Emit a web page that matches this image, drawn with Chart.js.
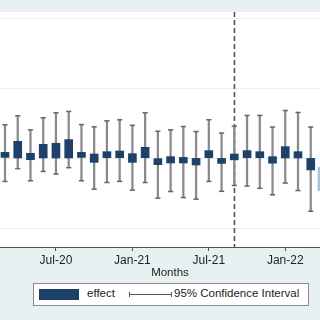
<!DOCTYPE html>
<html>
<head>
<meta charset="utf-8">
<script src="https://cdn.jsdelivr.net/npm/chart.js@4.4.1/dist/chart.umd.min.js"></script>
<style>
html,body{margin:0;padding:0;background:#e8f1f2;}
#wrap{position:relative;width:320px;height:320px;overflow:hidden;background:#e8f1f2;}
#c{position:absolute;left:0;top:0;}
#legend{position:absolute;left:33px;top:283px;width:274px;height:21px;background:#fff;border:1px solid #8c8c8c;
  font-family:"Liberation Sans",Arial,sans-serif;font-size:11.5px;color:#222;}
#legend .sw{position:absolute;left:5px;top:5px;width:40px;height:11px;background:#1d4169;}
#legend .t1{position:absolute;left:53px;top:3px;}
#legend .ci{position:absolute;left:95px;top:10px;width:43px;height:0;border-top:1px solid #555;}
#legend .ci:before,#legend .ci:after{content:"";position:absolute;top:-3px;width:0;height:5px;border-left:1px solid #555;}
#legend .ci:before{left:0;}
#legend .ci:after{right:0;}
#legend .t2{position:absolute;left:140px;top:3px;}
</style>
</head>
<body>
<div id="wrap">
  <canvas id="c" width="340" height="320"></canvas>
  <div id="legend"><div class="sw"></div><span class="t1">effect</span><div class="ci"></div><span class="t2">95% Confidence Interval</span></div>
</div>
<script>
const months = ['Mar-20','Apr-20','May-20','Jun-20','Jul-20','Aug-20','Sep-20','Oct-20','Nov-20','Dec-20',
  'Jan-21','Feb-21','Mar-21','Apr-21','May-21','Jun-21','Jul-21','Aug-21','Sep-21','Oct-21','Nov-21','Dec-21',
  'Jan-22','Feb-22','Mar-22','Apr-22'];
const tickLabels = ['Jul-20','Jan-21','Jul-21','Jan-22'];
const boxHigh = [0.0083,0.0241,0.0069,0.0198,0.0213,0.0266,0.0083,0.0060,0.0093,0.0103,0.0065,0.0155,-0.0007,
  0.0022,0.0011,-0.0003,0.0108,-0.0003,0.0060,0.0108,0.0093,0.0022,0.0165,0.0093,-0.0003,-0.0132];
const boxLow = [0.0011,0.0003,-0.0022,0.0003,0.0003,0.0003,0.0011,-0.0060,0.0007,0.0007,-0.0060,0.0007,-0.0093,
  -0.0069,-0.0069,-0.0098,0.0007,-0.0075,-0.0024,0.0007,0.0000,-0.0072,0.0003,0.0003,-0.0168,-0.0467];
const ciHigh = [0.0477,0.0606,0.0405,0.0578,0.0649,0.0668,0.0481,0.0448,0.0534,0.0549,0.0470,0.0649,0.0385,
  0.0405,0.0453,0.0381,0.0550,0.0359,0.0457,0.0611,0.0611,0.0445,0.0682,0.0654,0.0445,null];
const ciLow = [-0.0333,-0.0150,-0.0323,-0.0190,-0.0227,-0.0136,-0.0323,-0.0443,-0.0348,-0.0333,-0.0457,-0.0348,-0.0572,
  -0.0477,-0.0563,-0.0586,-0.0333,-0.0474,-0.0391,-0.0398,-0.0431,-0.0524,-0.0356,-0.0463,-0.0759,null];
const gridValues = [-0.1, 0, 0.1, 0.2];
const eventMonth = 'Sep-21';
const projStart = 'Apr-22';

const pIdx = months.indexOf(projStart);
const obsBoxes = [], projBoxes = [], whiskers = [], capsTop = [], capsBot = [];
months.forEach((m, i) => {
  const b = {x: i, y: [boxLow[i], boxHigh[i]]};
  (i < pIdx ? obsBoxes : projBoxes).push(b);
  if (ciLow[i] !== null) {
    whiskers.push({x: i, y: [ciLow[i], ciHigh[i]]});
    capsTop.push({x: i, y: ciHigh[i]});
    capsBot.push({x: i, y: ciLow[i]});
  }
});

const bgPlugin = {
  id: 'bg',
  beforeDraw(chart) {
    const {ctx, chartArea: a} = chart;
    ctx.save();
    ctx.fillStyle = '#e8f1f2';
    ctx.fillRect(0, 0, chart.width, chart.height);
    ctx.fillStyle = '#ffffff';
    ctx.fillRect(a.left, a.top, a.right - a.left, a.bottom - a.top);
    ctx.restore();
  },
  beforeDatasetsDraw(chart) {
    const {ctx, chartArea: a, scales} = chart;
    const x = Math.round(scales.x.getPixelForValue(months.indexOf(eventMonth))) + 0.5;
    ctx.save();
    ctx.strokeStyle = '#555555';
    ctx.lineWidth = 1.6;
    ctx.setLineDash([5, 3]);
    ctx.beginPath();
    ctx.moveTo(x, a.top);
    ctx.lineTo(x, a.bottom);
    ctx.stroke();
    ctx.restore();
  }
};

const font = {family: '"Liberation Sans", Arial, sans-serif'};
new Chart(document.getElementById('c'), {
  type: 'bar',
  data: {
    datasets: [
      {label: 'effect', data: obsBoxes, backgroundColor: '#1d4169', barThickness: 8, grouped: false, order: 0},
      {label: 'proj', data: projBoxes, backgroundColor: '#a9c1de', barThickness: 11, grouped: false, order: 0},
      {label: 'ci', data: whiskers, backgroundColor: '#8a8a8a', barThickness: 1.6, grouped: false, order: 3},
      {type: 'scatter', label: 'capTop', data: capsTop, pointStyle: 'line', radius: 2.6, borderWidth: 1.5,
        borderColor: '#666666', order: 2},
      {type: 'scatter', label: 'capBot', data: capsBot, pointStyle: 'line', radius: 2.6, borderWidth: 1.5,
        borderColor: '#666666', order: 2}
    ]
  },
  options: {
    responsive: false,
    animation: false,
    layout: {autoPadding: false, padding: {top: 12, bottom: 41, left: 0, right: 0}},
    plugins: {legend: {display: false}, tooltip: {enabled: false}},
    scales: {
      x: {
        type: 'linear',
        offset: false,
        min: -0.3925,
        max: 26.296,
        afterBuildTicks: s => { s.ticks = tickLabels.map(l => ({value: months.indexOf(l)})); },
        ticks: {
          callback: v => months[v],
          color: '#222', font: Object.assign({size: 12}, font), padding: 2,
          maxRotation: 0, autoSkip: false
        },
        grid: {offset: false, drawOnChartArea: false, drawTicks: true, tickLength: 4, color: '#555555'},
        border: {display: true, color: '#555555', width: 1},
        title: {display: true, text: 'Months', color: '#222', font: Object.assign({size: 11.5, lineHeight: 1}, font), padding: {top: -2, bottom: 0}}
      },
      y: {
        min: -0.1272,
        max: 0.2091,
        afterBuildTicks: s => { s.ticks = gridValues.map(v => ({value: v})); },
        afterFit: s => { s.width = 0; },
        ticks: {display: false},
        grid: {drawTicks: false, color: '#eeeeee', lineWidth: 1},
        border: {display: false}
      }
    }
  },
  plugins: [bgPlugin]
});
</script>
</body>
</html>
